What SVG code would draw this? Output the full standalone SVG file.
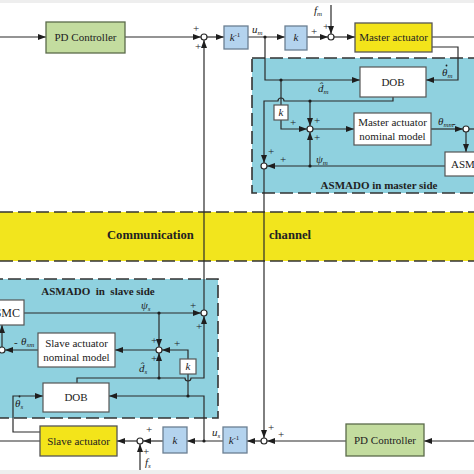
<svg xmlns="http://www.w3.org/2000/svg" width="474" height="474" viewBox="0 0 474 474">
<defs>
<marker id="ah" markerUnits="userSpaceOnUse" markerWidth="9" markerHeight="7" refX="8" refY="3" orient="auto">
<path d="M0,0 L8,3 L0,6 z" fill="#1e1e1e"/>
</marker>
</defs>
<style>
.ln{stroke:#2a2a2a;stroke-width:1.2;fill:none}
.ar{marker-end:url(#ah)}
.pd{fill:#c3dc9f;stroke:#5b6b4b;stroke-width:1.3}
.act{fill:#f3e41a;stroke:#555;stroke-width:1.3}
.kb{fill:#b4d3ee;stroke:#6b7f92;stroke-width:1.3}
.wb{fill:#fff;stroke:#555;stroke-width:1.2}
.sum{fill:#fff;stroke:#2a2a2a;stroke-width:1.2}
.dot{fill:#1e1e1e}
.dash{stroke:#333;stroke-width:1.6;stroke-dasharray:13 5;fill:none}
.asm{fill:#8fd1df}
text{font-family:"Liberation Serif","Times New Roman",serif;font-size:11px;fill:#222}
.c{text-anchor:middle}
.i{font-style:italic}
.b{font-weight:bold}
.s{font-size:8px}
.sub{font-size:7px}
</style>
<rect x="0" y="0" width="474" height="474" fill="#fff"/>
<rect x="0" y="0" width="474" height="3" fill="#eeeeee"/>
<rect x="0" y="470" width="474" height="4" fill="#eeeeee"/>

<g id="asmado-master">
<rect class="asm" x="252" y="58" width="232" height="135"/>
<rect class="dash" x="252" y="58" width="232" height="135"/>
<text class="b c" x="379" y="189">ASMADO in master side</text>
</g>
<g id="asmado-slave">
<rect class="asm" x="-10" y="279" width="228" height="139"/>
<rect class="dash" x="-10" y="279" width="228" height="139"/>
<text class="b c" x="98" y="295" xml:space="preserve">ASMADO  in  slave side</text>
</g>
<g id="channel">
<rect x="0" y="212" width="474" height="49" fill="#f2e51d"/>
<line class="dash" x1="0" y1="212" x2="474" y2="212"/>
<line class="dash" x1="0" y1="261" x2="474" y2="261"/>
<text class="b" x="107" y="239" style="font-size:12.6px">Communication</text>
<text class="b" x="269" y="239" style="font-size:12.6px">channel</text>
</g>

<g id="connectors">
<path class="ln ar" d="M0,37 H46"/>
<path class="ln ar" d="M125,37 H201"/>
<path class="ln ar" d="M207,37 H224"/>
<path class="ln ar" d="M248,37 H285"/>
<path class="ln ar" d="M265,37 V80 H360"/>
<path class="ln ar" d="M307,37 H328"/>
<path class="ln ar" d="M331,5 V34"/>
<path class="ln ar" d="M334,37 H355"/>
<path class="ln" d="M432,37 H474"/>
<path class="ln ar" d="M432,47 H458 V80 H426"/>
<path class="ln ar" d="M393,97 V101 H284 A3,3 0 0 0 278,101 H264 V163"/>
<path class="ln ar" d="M310,101 V126"/>
<path class="ln" d="M281,80 V105"/>
<path class="ln ar" d="M281,120 V129 H307"/>
<path class="ln ar" d="M313,129 H354"/>
<path class="ln ar" d="M431,129 H463"/>
<path class="ln" d="M469,129 H474"/>
<path class="ln ar" d="M466,132 V152"/>
<path class="ln ar" d="M445,166 H267"/>
<path class="ln ar" d="M310,166 V132"/>
<path class="ln ar" d="M264,169 V438"/>
<path class="ln ar" d="M204,310 V40"/>

<path class="ln ar" d="M474,441 H424"/>
<path class="ln ar" d="M346,441 H267"/>
<path class="ln ar" d="M261,441 H247"/>
<path class="ln ar" d="M223,441 H187"/>
<path class="ln ar" d="M163,441 H143"/>
<path class="ln ar" d="M140,470 V444"/>
<path class="ln ar" d="M137,441 H117"/>
<path class="ln" d="M40,441 H0"/>
<path class="ln ar" d="M40,432 H13 V396 H43"/>
<path class="ln ar" d="M204,441 V396 H109"/>
<path class="ln" d="M188,396 V374"/>
<path class="ln ar" d="M77,383 V378 H185 A3,3 0 0 0 191,378 H204 V316"/>
<path class="ln ar" d="M159,378 V353"/>
<path class="ln ar" d="M188,359 V350 H162"/>
<path class="ln ar" d="M156,350 H115"/>
<path class="ln ar" d="M38,350 H5"/>
<path class="ln ar" d="M2,347 V325"/>
<path class="ln ar" d="M24,313 H201"/>
<path class="ln ar" d="M159,313 V347"/>

<circle class="dot" cx="265" cy="37" r="1.6"/>
<circle class="dot" cx="281" cy="80" r="1.6"/>
<circle class="dot" cx="310" cy="101" r="1.6"/>
<circle class="dot" cx="310" cy="166" r="1.6"/>
<circle class="dot" cx="204" cy="441" r="1.6"/>
<circle class="dot" cx="188" cy="396" r="1.6"/>
<circle class="dot" cx="159" cy="378" r="1.6"/>
<circle class="dot" cx="159" cy="313" r="1.6"/>
</g>

<g id="sums">
<circle class="sum" cx="204" cy="37" r="3"/>
<circle class="sum" cx="331" cy="37" r="3"/>
<circle class="sum" cx="310" cy="129" r="3"/>
<circle class="sum" cx="466" cy="129" r="3"/>
<circle class="sum" cx="264" cy="166" r="3"/>
<circle class="sum" cx="264" cy="441" r="3"/>
<circle class="sum" cx="140" cy="441" r="3"/>
<circle class="sum" cx="204" cy="313" r="3"/>
<circle class="sum" cx="159" cy="350" r="3"/>
<circle class="sum" cx="2" cy="350" r="3"/>
</g>

<g id="signs" class="s">
<text x="193" y="32">+</text>
<text x="195" y="50">+</text>
<text x="311" y="35">+</text>
<text x="323" y="30">+</text>
<text x="290" y="126">+</text>
<text x="314" y="124">+</text>
<text x="314" y="141">+</text>
<text x="452" y="127">-</text>
<text x="280" y="163">+</text>
<text x="268" y="155">+</text>
<text x="278" y="438">+</text>
<text x="268" y="431">+</text>
<text x="146" y="433">+</text>
<text x="143" y="455">+</text>
<text x="190" y="309">+</text>
<text x="196" y="330">+</text>
<text x="151" y="344">+</text>
<text x="151" y="362">+</text>
<text x="174" y="347">+</text>
<text x="14" y="346">-</text>
</g>

<g id="labels" class="i">
<text x="252" y="33">u<tspan class="sub" dy="2">m</tspan></text>
<text x="212" y="436">u<tspan class="sub" dy="2">s</tspan></text>
<text x="314" y="14">f<tspan class="sub" dy="2">m</tspan></text>
<text x="145" y="466">f<tspan class="sub" dy="2">s</tspan></text>
<text x="442" y="76">θ<tspan class="sub" dy="2">m</tspan></text>
<circle class="dot" cx="446.5" cy="65.5" r="0.9"/>
<text x="15" y="407">θ<tspan class="sub" dy="2">s</tspan></text>
<circle class="dot" cx="19.5" cy="396.5" r="0.9"/>
<text x="318" y="92">d̂<tspan class="sub" dy="2">m</tspan></text>
<text x="139" y="372">d̂<tspan class="sub" dy="2">s</tspan></text>
<text x="438" y="125">θ<tspan class="sub" dy="2">mm</tspan></text>
<text x="21" y="345">θ<tspan class="sub" dy="2">sm</tspan></text>
<text x="316" y="163">ψ<tspan class="sub" dy="2">m</tspan></text>
<text x="141" y="309">ψ<tspan class="sub" dy="2">s</tspan></text>
</g>

<g id="pd-master"><rect class="pd" x="46" y="22" width="79" height="31"/><text class="c" x="85.5" y="41">PD Controller</text></g>
<g id="kinv-master"><rect class="kb" x="224" y="26" width="24" height="23"/><text class="c i" x="235" y="41">k<tspan class="sub" dy="-4" style="font-style:normal">-1</tspan></text></g>
<g id="k-master"><rect class="kb" x="285" y="26" width="22" height="24"/><text class="c i" x="296" y="41">k</text></g>
<g id="master-actuator"><rect class="act" x="355" y="23" width="77" height="29"/><text class="c" x="393.5" y="41">Master actuator</text></g>
<g id="dob-master"><rect class="wb" x="360" y="67" width="66" height="30"/><text class="c" x="393" y="86">DOB</text></g>
<g id="k-small-master"><rect class="wb" x="274" y="105" width="14" height="15"/><text class="c i" x="281" y="116">k</text></g>
<g id="nominal-master"><rect class="wb" x="354" y="113" width="77" height="32"/><text class="c" x="392.5" y="126">Master actuator</text><text class="c" x="392.5" y="140">nominal model</text></g>
<g id="asmc"><rect class="wb" x="445" y="152" width="40" height="24"/><text x="451" y="168">ASMC</text></g>

<g id="smc"><rect class="wb" x="-20" y="300" width="44" height="25"/><text x="20" y="317" style="text-anchor:end;font-size:12px">SMC</text></g>
<g id="nominal-slave"><rect class="wb" x="38" y="333" width="77" height="34"/><text class="c" x="76.5" y="347">Slave actuator</text><text class="c" x="76.5" y="361">nominal model</text></g>
<g id="k-small-slave"><rect class="wb" x="180" y="359" width="16" height="15"/><text class="c i" x="188" y="370">k</text></g>
<g id="dob-slave"><rect class="wb" x="43" y="383" width="66" height="29"/><text class="c" x="76" y="401">DOB</text></g>
<g id="slave-actuator"><rect class="act" x="40" y="426" width="77" height="30"/><text class="c" x="78.5" y="445">Slave actuator</text></g>
<g id="k-slave"><rect class="kb" x="163" y="427" width="24" height="26"/><text class="c i" x="175" y="444">k</text></g>
<g id="kinv-slave"><rect class="kb" x="223" y="427" width="24" height="26"/><text class="c i" x="234" y="444">k<tspan class="sub" dy="-4" style="font-style:normal">-1</tspan></text></g>
<g id="pd-slave"><rect class="pd" x="346" y="424" width="78" height="32"/><text class="c" x="385" y="444">PD Controller</text></g>
</svg>
